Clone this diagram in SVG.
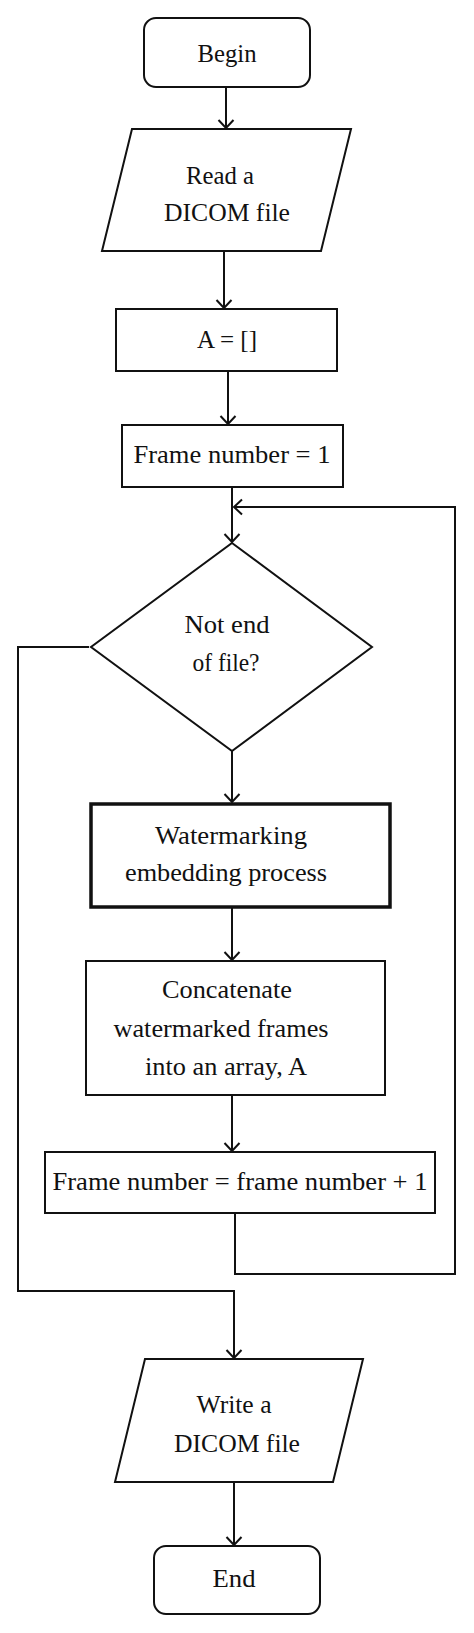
<svg xmlns="http://www.w3.org/2000/svg" width="474" height="1633" viewBox="0 0 474 1633">
<defs>
<marker id="arr" markerUnits="userSpaceOnUse" markerWidth="20" markerHeight="20" refX="10" refY="10" orient="auto">
<polyline points="2,2.5 10,10 2,17.5" fill="none" stroke="#111" stroke-width="2"/>
</marker>
<style>
.s{fill:#fff;stroke:#111;stroke-width:2}
.b{fill:#fff;stroke:#111;stroke-width:3.5}
.c{fill:none;stroke:#111;stroke-width:2}
text{font-family:"Liberation Serif","Times New Roman",serif;font-size:25px;fill:#111;text-anchor:middle}
</style>
</defs>
<rect width="474" height="1633" fill="#fff"/>
<g id="connectors">
<line class="c" x1="226" y1="87" x2="226" y2="128" marker-end="url(#arr)"/>
<line class="c" x1="224" y1="251" x2="224" y2="308" marker-end="url(#arr)"/>
<line class="c" x1="228" y1="371" x2="228" y2="424" marker-end="url(#arr)"/>
<line class="c" x1="232" y1="487" x2="232" y2="542" marker-end="url(#arr)"/>
<line class="c" x1="232" y1="749" x2="232" y2="802" marker-end="url(#arr)"/>
<line class="c" x1="232" y1="907" x2="232" y2="960" marker-end="url(#arr)"/>
<line class="c" x1="232" y1="1095" x2="232" y2="1151" marker-end="url(#arr)"/>
<polyline class="c" points="235,1213 235,1274 455,1274 455,507 234,507" marker-end="url(#arr)"/>
<polyline class="c" points="89,647 18,647 18,1291 234,1291 234,1358" marker-end="url(#arr)"/>
<line class="c" x1="234" y1="1482" x2="234" y2="1545" marker-end="url(#arr)"/>
</g>
<g id="begin">
<rect class="s" x="144" y="18" width="166" height="69" rx="12"/>
<text x="227" y="62" textLength="59" lengthAdjust="spacingAndGlyphs">Begin</text>
</g>
<g id="read">
<polygon class="s" points="132,129 351,129 321,251 102,251"/>
<text x="220" y="184" textLength="68" lengthAdjust="spacingAndGlyphs">Read a</text>
<text x="227" y="221" textLength="126" lengthAdjust="spacingAndGlyphs">DICOM file</text>
</g>
<g id="init-a">
<rect class="s" x="116" y="309" width="221" height="62"/>
<text x="227" y="348" textLength="60" lengthAdjust="spacingAndGlyphs">A = []</text>
</g>
<g id="frame-init">
<rect class="s" x="122" y="425" width="221" height="62"/>
<text x="232" y="463" textLength="197" lengthAdjust="spacingAndGlyphs">Frame number = 1</text>
</g>
<g id="decision">
<polygon class="s" points="232,543 372,647 232,751 91,647"/>
<text x="227" y="633" textLength="85" lengthAdjust="spacingAndGlyphs">Not end</text>
<text x="226" y="671" textLength="67" lengthAdjust="spacingAndGlyphs">of file?</text>
</g>
<g id="watermark">
<rect class="b" x="91" y="804" width="299" height="103"/>
<text x="231" y="844" textLength="152" lengthAdjust="spacingAndGlyphs">Watermarking</text>
<text x="226" y="881" textLength="202" lengthAdjust="spacingAndGlyphs">embedding process</text>
</g>
<g id="concat">
<rect class="s" x="86" y="961" width="299" height="134"/>
<text x="227" y="998" textLength="130" lengthAdjust="spacingAndGlyphs">Concatenate</text>
<text x="221" y="1037" textLength="215" lengthAdjust="spacingAndGlyphs">watermarked frames</text>
<text x="226" y="1075" textLength="162" lengthAdjust="spacingAndGlyphs">into an array, A</text>
</g>
<g id="frame-inc">
<rect class="s" x="45" y="1152" width="390" height="61"/>
<text x="240" y="1190" textLength="375" lengthAdjust="spacingAndGlyphs">Frame number = frame number + 1</text>
</g>
<g id="write">
<polygon class="s" points="145,1359 363,1359 333,1482 115,1482"/>
<text x="234" y="1413" textLength="75" lengthAdjust="spacingAndGlyphs">Write a</text>
<text x="237" y="1452" textLength="126" lengthAdjust="spacingAndGlyphs">DICOM file</text>
</g>
<g id="end">
<rect class="s" x="154" y="1546" width="166" height="68" rx="12"/>
<text x="234" y="1587" textLength="43" lengthAdjust="spacingAndGlyphs">End</text>
</g>
</svg>
